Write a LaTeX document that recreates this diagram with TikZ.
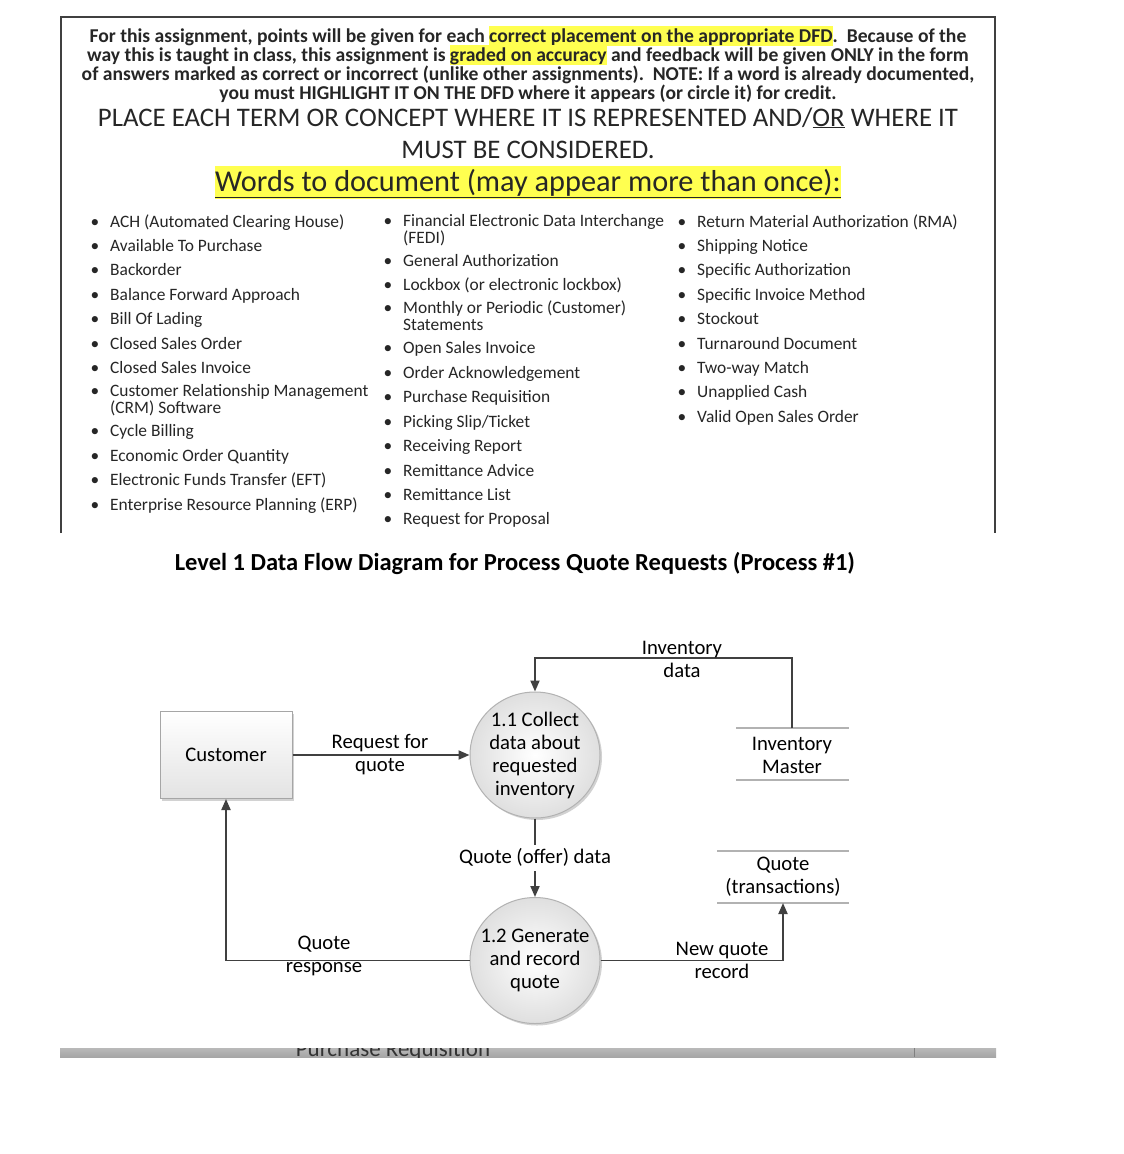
\documentclass[tikz,border=0pt]{standalone}
\usepackage{fontspec}
\setmainfont{Carlito}
\usetikzlibrary{arrows.meta,shadows,shapes.geometric}
\definecolor{hlyellow}{HTML}{FFFF50}
\definecolor{txt}{HTML}{262626}
\definecolor{ln}{HTML}{404040}
\newcommand\hlA[1]{{\setlength\fboxsep{0pt}\colorbox{hlyellow}{\rule[-4pt]{0pt}{20pt}#1}}}
\newcommand\hlB[1]{{\setlength\fboxsep{0pt}\colorbox{hlyellow}{\rule[-8pt]{0pt}{33pt}#1}}}
\begin{document}
\begin{tikzpicture}[x=1pt,y=-1pt,
  para/.style={anchor=base,inner sep=0pt,text=txt,font=\fontsize{19.6}{19}\selectfont\bfseries},
  big/.style={anchor=base,inner sep=0pt,text=txt,font=\fontsize{26.8}{28}\selectfont},
  itm/.style={anchor=base west,inner sep=0pt,text height=9pt,text depth=2pt,text=txt,font=\fontsize{17.4}{18}\selectfont},
  bul/.style={anchor=base,inner sep=0pt,text=txt,font=\fontsize{17.4}{18}\selectfont},
  frame/.style={draw=ln,line width=1.8pt},
  lbl/.style={align=center,inner sep=1pt,text=black,font=\fontsize{20.7}{23}\selectfont},
  flow/.style={draw=ln,line width=1.9pt,-{Triangle[length=11pt,width=9pt]}},
  store/.style={draw=gray!60,line width=1.3pt},
  ent/.style={draw=gray!70,line width=1pt,minimum width=132pt,minimum height=87pt,
    top color=white,bottom color=gray!22,drop shadow={opacity=0.35,shadow xshift=2pt,shadow yshift=-2pt},
    font=\fontsize{20.7}{23}\selectfont},
  proc/.style={ellipse,draw=gray!60,line width=1pt,minimum width=130pt,minimum height=126pt,inner sep=-20pt,
    inner color=white,outer color=gray!25,drop shadow={opacity=0.35,shadow xshift=2pt,shadow yshift=-2pt},
    align=center,font=\fontsize{20.7}{23}\selectfont}
]
\useasboundingbox[fill=white] (0,0) rectangle (1124,1154);
% frame
\draw[frame] (61,533) -- (61,17) -- (995,17) -- (995,533);
% instructions
\node[para] (p1) at (528,42) {For this assignment, points will be given for each \hlA{correct placement on the appropriate DFD}.\ \ Because of the};
\node[para] (p2) at (528,61) {way this is taught in class, this assignment is \hlA{graded on accuracy} and feedback will be given ONLY in the form};
\node[para] (p3) at (528,80) {of answers marked as correct or incorrect (unlike other assignments).\ \ NOTE: If a word is already documented,};
\node[para] (p4) at (528,99) {you must HIGHLIGHT IT ON THE DFD where it appears (or circle it) for credit.};
\node[big] (b1) at (528,126) {PLACE EACH TERM OR CONCEPT WHERE IT IS REPRESENTED AND/\underline{OR} WHERE IT};
\node[big] (b2) at (528,158) {MUST BE CONSIDERED.};
\node[big,font=\fontsize{30.3}{32}\selectfont] (b3) at (528,191) {\hlB{\underline{Words to document (may appear more than once):}}};
% column 1
\foreach \yy/\tt in {227/{ACH (Automated Clearing House)},251/{Available To Purchase},275/{Backorder},300/{Balance Forward Approach},324/{Bill Of Lading},349/{Closed Sales Order},373/{Closed Sales Invoice},396/{Customer Relationship Management},436/{Cycle Billing},461/{Economic Order Quantity},485/{Electronic Funds Transfer (EFT)},510/{Enterprise Resource Planning (ERP)}}
  {\node[bul] at (95,\yy) {•}; \node[itm] at (110,\yy) {\tt};}
\node[itm] (c1x) at (110,413) {(CRM) Software};
% column 2
\foreach \yy/\tt in {226/{Financial Electronic Data Interchange},266/{General Authorization},290/{Lockbox (or electronic lockbox)},313/{Monthly or Periodic (Customer)},353/{Open Sales Invoice},378/{Order Acknowledgement},402/{Purchase Requisition},427/{Picking Slip/Ticket},451/{Receiving Report},476/{Remittance Advice},500/{Remittance List},524/{Request for Proposal}}
  {\node[bul] at (388,\yy) {•}; \node[itm] at (403,\yy) {\tt};}
\node[itm] (c2x) at (403,243) {(FEDI)};
\node[itm] (c2y) at (403,330) {Statements};
% column 3
\foreach \yy/\tt in {227/{Return Material Authorization (RMA)},251/{Shipping Notice},275/{Specific Authorization},300/{Specific Invoice Method},324/{Stockout},349/{Turnaround Document},373/{Two-way Match},397/{Unapplied Cash},422/{Valid Open Sales Order}}
  {\node[bul] at (682,\yy) {•}; \node[itm] at (697,\yy) {\tt};}
% title
\node[anchor=base,inner sep=0pt,font=\fontsize{24.5}{26}\selectfont\bfseries] (title) at (515,570) {Level 1 Data Flow Diagram for Process Quote Requests (Process \#1)};
% DFD
\node[ent] (cust) at (226,755) {Customer};
\node[proc] (p11) at (535,755) {1.1 Collect\\data about\\requested\\inventory};
\node[proc] (p12) at (535,960.5) {1.2 Generate\\and record\\quote};
% data stores
\draw[store] (736,728) -- (849,728);
\draw[store] (736,780) -- (849,780);
\node[lbl] (im) at (792,755) {Inventory\\Master};
\coordinate (imtop) at (792,728);
\draw[store] (717,851) -- (849,851);
\draw[store] (717,903) -- (849,903);
\node[lbl] (qt) at (783,877) {Quote\\(transactions)};
\coordinate (qtbot) at (783,903);
% flows
\draw[flow] (cust.east) -- (p11.west);
\node[lbl] (l1) at (380,755) {Request for\\quote};
\coordinate (cA) at (792,658);
\draw[flow] (imtop) -- (cA) -| (p11.north);
\node[lbl] (l2) at (682,659) {Inventory\\data};
\draw[flow] (p11.south) -- node[lbl,fill=white,inner ysep=4pt] (l3) {Quote (offer) data} (p12.north);
\draw[flow] (p12.east) -| (qtbot);
\node[lbl] (l4) at (722,960) {New quote\\record};
\draw[flow] (p12.west) -| (cust.south);
\node[lbl] (l5) at (324,956) {Quote\\response};
% bottom strip
\shade[top color=gray!55,bottom color=gray!70] (60,1048) rectangle (996,1057);
\begin{scope}
\clip (60,1048) rectangle (996,1057);
\node[anchor=base,inner sep=0pt,text=black!80,font=\fontsize{23}{26}\selectfont] (pr) at (393,1056) {Purchase Requisition};
\draw[black!50,line width=1pt] (914,1048) -- (914,1057);
\end{scope}
\end{tikzpicture}
\end{document}
